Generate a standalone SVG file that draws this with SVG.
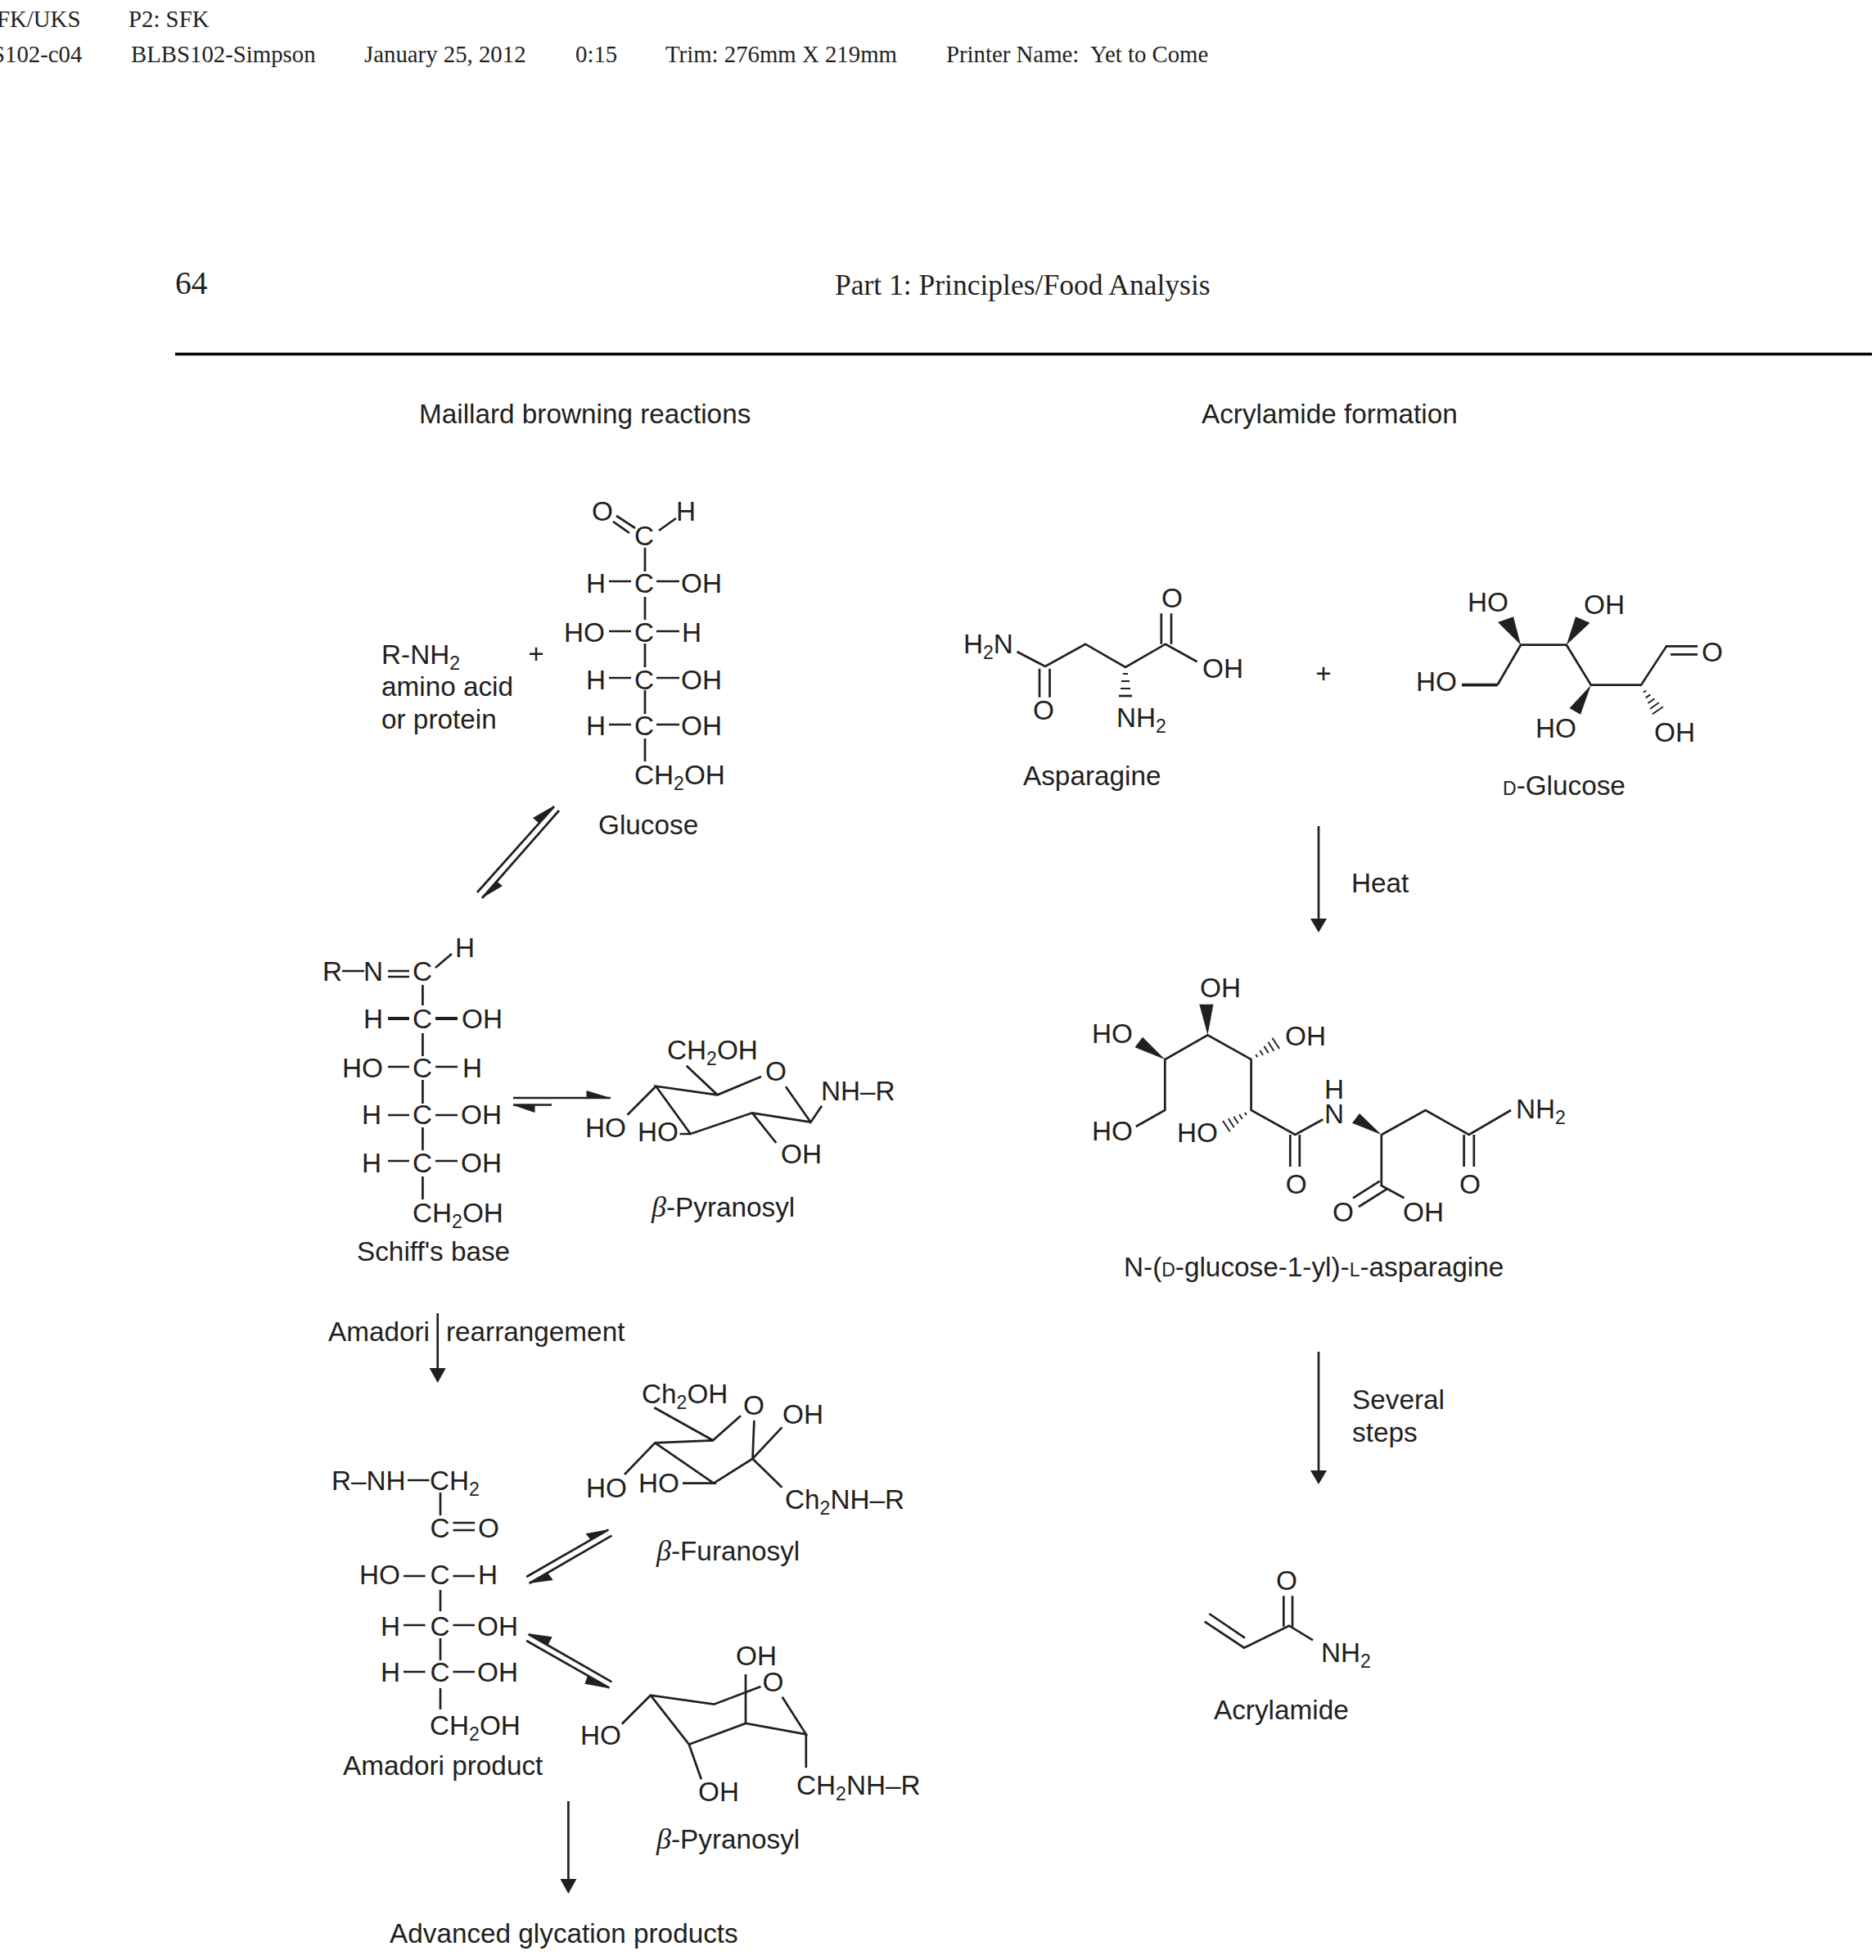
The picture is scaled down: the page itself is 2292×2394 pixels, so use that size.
<svg xmlns="http://www.w3.org/2000/svg" width="2292" height="2394" viewBox="0 0 2292 2394">
<style>
text{font-family:"Liberation Sans",Arial,sans-serif;font-size:33.3px;fill:#231f20}
.mol text{transform:translateY(0.7px)}
.s{font-family:"Liberation Serif","Times New Roman",serif;font-size:28.8px}
.p{font-size:39.5px}.pt{font-size:35.5px}
.m{text-anchor:middle}
.b{fill:#231f20;font-family:"Liberation Serif",serif;font-style:italic;font-size:36px}
.sc{font-size:23px}
.u{font-size:23px}
path{fill:none;stroke:#231f20;stroke-width:2.7}
.th{stroke-width:3.8}
.ha{stroke-width:1.9}
polygon{fill:#231f20;stroke:none}
</style>
<rect width="2292" height="2394" fill="#fff"/>
<g id="header">
<text class="s" x="-4" y="33">FK/UKS</text><text class="s" x="157" y="33">P2: SFK</text>
<text class="s" x="-10" y="76">S102-c04</text><text class="s" x="160" y="76">BLBS102-Simpson</text><text class="s" x="445" y="76">January 25, 2012</text><text class="s" x="703" y="76">0:15</text><text class="s" x="813" y="76">Trim: 276mm X 219mm</text><text class="s" x="1156" y="76">Printer Name:</text><text class="s" x="1332" y="76">Yet to Come</text>
<text class="s p" x="214" y="359">64</text><text class="s pt" x="1020" y="360">Part 1: Principles/Food Analysis</text>
<path d="M214 432.5H2287" style="stroke:#000;stroke-width:3.4"/>
<text x="512" y="517">Maillard browning reactions</text><text x="1468" y="517">Acrylamide formation</text>
</g>
<g id="amine" class="mol"><text x="466" y="810">R-NH<tspan class="u" dy="7">2</tspan></text><text x="466" y="849">amino acid</text><text x="466" y="889">or protein</text></g>
<text id="plus1" class="m" x="655" y="810">+</text>
<g id="glucose" class="mol">
<path d="M753 630L776 645M749 637L769 651M805 648L826 633M788 669V698M744 710H771M802 710H830M788 729V757M744 771H771M802 771H830M788 786V815M744 828H771M802 828H830M788 843V872M744 885H771M802 885H830M788 902V930"/>
<text class="m" x="736" y="635">O</text><text class="m" x="838" y="635">H</text><text class="m" x="787" y="665">C</text>
<text class="m" x="728" y="723">H</text><text class="m" x="787" y="723">C</text><text x="832" y="723">OH</text>
<text x="689" y="783">HO</text><text class="m" x="787" y="783">C</text><text class="m" x="845" y="783">H</text>
<text class="m" x="728" y="841">H</text><text class="m" x="787" y="841">C</text><text x="832" y="841">OH</text>
<text class="m" x="728" y="897">H</text><text class="m" x="787" y="897">C</text><text x="832" y="897">OH</text>
<text x="775" y="957">CH<tspan class="u" dy="7">2</tspan><tspan dy="-7">OH</tspan></text>
<text x="731" y="1018">Glucose</text>
</g>
<g id="schiff" class="mol">
<path d="M418 1186H445M474 1186H500M474 1193H500M532 1182L552 1165M516.4 1203V1228M516.4 1262V1290M474 1303H500M532 1303H559M516.4 1319V1348M474 1362H500M532 1362H559M516.4 1377V1405M474 1418H500M532 1418H559M516.4 1437V1465"/>
<path class="th" d="M474 1244H500M532 1244H559"/>
<text class="m" x="406" y="1197">R</text><text class="m" x="456" y="1197">N</text><text class="m" x="516" y="1197">C</text><text class="m" x="568" y="1168">H</text>
<text class="m" x="456" y="1255">H</text><text class="m" x="516" y="1255">C</text><text x="564" y="1255">OH</text>
<text x="418" y="1315">HO</text><text class="m" x="516" y="1315">C</text><text class="m" x="577" y="1315">H</text>
<text class="m" x="454" y="1372">H</text><text class="m" x="516" y="1372">C</text><text x="563" y="1372">OH</text>
<text class="m" x="454" y="1431">H</text><text class="m" x="516" y="1431">C</text><text x="563" y="1431">OH</text>
<text x="504" y="1492">CH<tspan class="u" dy="7">2</tspan><tspan dy="-7">OH</tspan></text>
<text x="436" y="1539">Schiff's base</text>
</g>
<g id="pyranosyl1" class="mol">
<path d="M838.7 1301.7L876.5 1337.3L930 1315M960 1327.3L990.5 1370.7L1004 1350.7M990.5 1370.7L919 1359.3L843.6 1385L801.4 1326.7L876.5 1337.3M801.4 1326.7L766.5 1361.7M830.5 1385H843.6M919 1359.3L948.3 1396"/>
<text x="815" y="1293">CH<tspan class="u" dy="7">2</tspan><tspan dy="-7">OH</tspan></text><text class="m" x="948" y="1319">O</text><text x="1003" y="1343">NH–R</text>
<text x="715" y="1388">HO</text><text x="779" y="1393">HO</text><text x="954" y="1420">OH</text>
<text x="796" y="1485"><tspan class="b">β</tspan>-Pyranosyl</text>
</g>
<g id="amadori" class="mol">
<path d="M498 1808H524.5M538 1823V1851M553.5 1860H580M553.5 1869H580M493 1925H519.6M553.5 1925H580M538 1942V1968M493 1985H519.6M553.5 1985H580M538 2001V2028M493 2042H519.6M553.5 2042H580M538 2062V2088"/>
<text x="405" y="1819">R–NH</text><text x="525" y="1819">CH<tspan class="u" dy="7">2</tspan></text>
<text class="m" x="537.5" y="1877">C</text><text class="m" x="597" y="1877">O</text>
<text x="439" y="1934">HO</text><text class="m" x="537.5" y="1934">C</text><text class="m" x="596" y="1934">H</text>
<text class="m" x="477" y="1997">H</text><text class="m" x="537.5" y="1997">C</text><text x="583" y="1997">OH</text>
<text class="m" x="477" y="2053">H</text><text class="m" x="537.5" y="2053">C</text><text x="583" y="2053">OH</text>
<text x="525" y="2118">CH<tspan class="u" dy="7">2</tspan><tspan dy="-7">OH</tspan></text>
<text x="419" y="2167">Amadori product</text>
</g>
<g id="furanosyl" class="mol">
<path d="M799.3 1719.3L871 1759.3L905 1729.3M871 1759.3L800.3 1762.3L763 1801M800.3 1762.3L872 1811.7H834M872 1811.7L919.5 1781.7L921.4 1735M919.5 1781.7L955.4 1743.3M919.5 1781.7L955.4 1816.7"/>
<text x="784" y="1713">Ch<tspan class="u" dy="7">2</tspan><tspan dy="-7">OH</tspan></text><text class="m" x="921" y="1727">O</text><text x="956" y="1738">OH</text>
<text x="716" y="1828">HO</text><text x="780" y="1822">HO</text>
<text x="959" y="1842">Ch<tspan class="u" dy="7">2</tspan><tspan dy="-7">NH–R</tspan></text>
<text x="802" y="1905"><tspan class="b">β</tspan>-Furanosyl</text>
</g>
<g id="pyranosyl2" class="mol">
<path d="M911 2045V2105M929.5 2060L872.3 2081.7L794.8 2070.7L759.8 2105.7M794.8 2070.7L841.8 2130.7L911 2105L984.8 2118.3L955.7 2072.7M984.8 2118.3V2159.3M841.8 2130.7L856.8 2173.3"/>
<text x="899" y="2033">OH</text><text class="m" x="944.5" y="2065">O</text><text x="709" y="2130">HO</text><text x="853" y="2199">OH</text>
<text x="973" y="2191">CH<tspan class="u" dy="7">2</tspan><tspan dy="-7">NH–R</tspan></text>
<text x="802" y="2257"><tspan class="b">β</tspan>-Pyranosyl</text>
</g>
<text id="agp" x="476" y="2373">Advanced glycation products</text>
<g id="asparagine" class="mol">
<path d="M1242.5 796L1277 814L1326 786.7L1375 815L1424 786.7L1462.5 808.3M1418.8 749.3V786.7M1431 749.3V786.7M1270 816.7V851.7M1282.5 816.7V851.7"/>
<path class="ha" d="M1372 823H1378M1370 832H1380M1369 841H1381"/><path d="M1367 850H1383"/>
<text x="1177" y="797">H<tspan class="u" dy="7">2</tspan><tspan dy="-7">N</tspan></text><text class="m" x="1432" y="741">O</text><text x="1469" y="827">OH</text><text class="m" x="1275" y="878">O</text>
<text x="1364" y="887">NH<tspan class="u" dy="7">2</tspan></text><text x="1250" y="958">Asparagine</text>
</g>
<text id="plus2" class="m" x="1617" y="834">+</text>
<g id="dglucose" class="mol">
<path d="M1786 836.7H1829.4" class="th"/>
<path d="M1829.4 836.7L1858 787.7H1913.8L1943.8 836.7H2005L2036 789.3H2074M2041 799.3H2074"/>
<path class="ha" d="M2007.8 845.7L2011.2 843.5M2010.6 852.4L2016.4 848.4M2013.3 859L2021.5 853.4M2016 865.7L2026.8 858.3M2018.7 872.2L2031.9 863.2"/>
<polygon points="1858,787.7 1830,760 1849,753.3"/><polygon points="1913.8,787.7 1925,753.3 1942.5,760.7"/><polygon points="1943.8,836.7 1917.5,865 1931,872.7"/>
<text x="1793" y="746">HO</text><text x="1935" y="749">OH</text><text x="1730" y="843">HO</text><text x="1876" y="900">HO</text><text x="2021" y="905">OH</text><text class="m" x="2092" y="807">O</text>
<text x="1836" y="970"><tspan class="sc">D</tspan>-Glucose</text>
</g>
<g id="glycosyl" class="mol">
<path d="M1387.8 1376L1423.3 1356V1294L1475.5 1264.3L1528.6 1294V1356L1582.4 1386L1616.3 1367.3M1576.3 1386V1425M1587.8 1386V1425M1687.8 1386L1741.6 1356L1794.7 1386L1846 1356M1788.6 1386V1425M1800.8 1386V1425M1687.8 1386V1448.3L1715.5 1463.3M1685.7 1442.7L1653 1463.3M1693.9 1452.7L1660 1474"/>
<path class="ha" d="M1534.2 1287.9L1536.4 1291.3M1539.3 1282.9L1543.1 1288.7M1544.4 1277.8L1549.8 1286.2M1549.4 1272.7L1556.4 1283.7M1554.4 1267.7L1563.2 1281.1M1520.8 1358.7L1523 1362.1M1514.1 1361.3L1517.9 1367.1M1507.4 1363.8L1512.8 1372.2M1500.8 1366.3L1507.8 1377.3M1494 1368.9L1502.8 1382.3"/>
<polygon points="1423.3,1294 1386.5,1279.3 1396,1266.7"/><polygon points="1475.5,1264.3 1465.3,1226.7 1482.4,1226.7"/><polygon points="1687.8,1386 1652,1371.7 1661,1360"/>
<text x="1466" y="1217">OH</text><text x="1334" y="1273">HO</text><text x="1570" y="1276">OH</text><text x="1334" y="1392">HO</text><text x="1438" y="1394">HO</text>
<text class="m" x="1630" y="1341">H</text><text class="m" x="1630" y="1371">N</text><text x="1852" y="1365">NH<tspan class="u" dy="7">2</tspan></text>
<text class="m" x="1583.7" y="1457">O</text><text class="m" x="1796" y="1457">O</text><text class="m" x="1641" y="1491">O</text><text x="1714" y="1491">OH</text>
<text x="1373" y="1558">N-(<tspan class="sc">D</tspan>-glucose-1-yl)-<tspan class="sc">L</tspan>-asparagine</text>
</g>
<g id="acrylamide" class="mol">
<path d="M1568.3 1949.3V1986.7M1579 1949.3V1986.7M1604 2003.3L1575 1985.7L1520 2012.7L1471.7 1980.7M1521 2000.7L1477.3 1971"/>
<text class="m" x="1572" y="1941">O</text><text x="1614" y="2029">NH<tspan class="u" dy="7">2</tspan></text><text x="1483" y="2099">Acrylamide</text>
</g>
<g id="connectors">
<path d="M583 1090L677 985M683 990L589 1097"/>
<polygon points="677,984 651,999 658,1005"/><polygon points="589,1097 614,1082 606,1076"/>
<path d="M627 1341H746M627 1349.5H674"/>
<polygon points="746,1341 716.5,1332 716.5,1341"/><polygon points="627,1350 653.5,1350 653.5,1359"/>
<path d="M534.7 1604V1672"/><polygon points="524.7,1671 544.7,1671 534.7,1689"/>
<path d="M643.2 1926L743.5 1868.3M646.6 1934L747.4 1875.7"/>
<polygon points="743.5,1868 715.4,1873.3 721.7,1880.7"/><polygon points="646.6,1934 668.4,1920 675.7,1930"/>
<path d="M645.6 1996L747.4 2054.3M643.2 2004L744.5 2061.7"/>
<polygon points="645.6,1995.3 674.7,1999.3 669.4,2009.3"/><polygon points="744.5,2062.3 717.9,2046.7 714.5,2056.7"/>
<path d="M694.4 2200V2296"/><polygon points="684.4,2295 704.4,2295 694.4,2313"/>
<path d="M1611 1009V1123"/><polygon points="1601,1122 1621,1122 1611,1139"/>
<path d="M1611 1651V1797"/><polygon points="1601,1796 1621,1796 1611,1813"/>
</g>
<g id="labels"><text x="401" y="1638">Amadori</text><text x="545" y="1638">rearrangement</text><text x="1651" y="1090">Heat</text><text x="1652" y="1721">Several</text><text x="1652" y="1761">steps</text></g>
</svg>
